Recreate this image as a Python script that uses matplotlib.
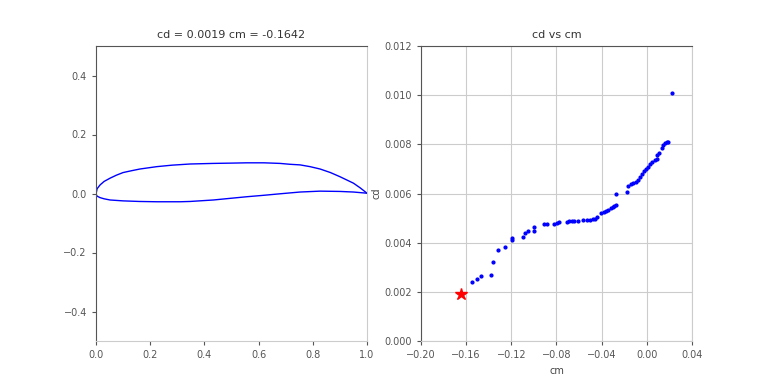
import matplotlib
matplotlib.use("Agg")
import matplotlib.pyplot as plt

# Profilkoordinaten (Oberseite und Unterseite)
x_oben = [0.0, 0.004, 0.015, 0.03, 0.052, 0.075, 0.10, 0.13, 0.162, 0.224, 0.28, 0.347, 0.433,
          0.50, 0.556, 0.62, 0.679, 0.716, 0.753, 0.79, 0.827, 0.865, 0.90, 0.95, 0.975, 1.0]
y_oben = [-0.002, 0.016, 0.029, 0.041, 0.052, 0.062, 0.071, 0.077, 0.083, 0.091, 0.096, 0.100, 0.102,
          0.103, 0.104, 0.104, 0.102, 0.099, 0.097, 0.091, 0.083, 0.071, 0.057, 0.035, 0.019, 0.001]
x_unten = [0.0, 0.004, 0.015, 0.03, 0.052, 0.10, 0.16, 0.224, 0.31, 0.347, 0.433, 0.50, 0.556,
           0.62, 0.679, 0.716, 0.753, 0.827, 0.90, 0.95, 1.0]
y_unten = [-0.002, -0.009, -0.014, -0.018, -0.022, -0.025, -0.027, -0.028, -0.028, -0.027, -0.022,
           -0.016, -0.011, -0.006, -0.001, 0.002, 0.005, 0.008, 0.007, 0.005, 0.001]

# cd / cm Punkte
cm = [-0.1551, -0.1504, -0.1471, -0.1383, -0.1365, -0.1318, -0.1256, -0.1197, -0.1197,
      -0.1097, -0.1079, -0.1052, -0.0999, -0.0999, -0.0911, -0.0887, -0.0819, -0.0798,
      -0.0775, -0.0710, -0.0690, -0.0665, -0.0645, -0.0607, -0.0562, -0.0532, -0.0503,
      -0.0474, -0.0459, -0.0437, -0.0406, -0.0383, -0.0361, -0.0341, -0.0317, -0.0302,
      -0.0288, -0.0273, -0.0273, -0.0178, -0.0163, -0.0142, -0.0120, -0.0096, -0.0075,
      -0.0060, -0.0045, -0.0025, -0.0007, 0.0014, 0.0029, 0.0049, 0.0073, 0.0094,
      0.0094, 0.0112, 0.0133, 0.0147, 0.0162, 0.0177, 0.0191, 0.0223]
cd = [0.00239, 0.00251, 0.00264, 0.00267, 0.00321, 0.00369, 0.00381, 0.00411, 0.00419,
      0.00423, 0.00441, 0.00446, 0.00449, 0.00465, 0.00475, 0.00475, 0.00477, 0.00481,
      0.00483, 0.00484, 0.00487, 0.00488, 0.00489, 0.00489, 0.00491, 0.00492, 0.00493,
      0.00495, 0.00498, 0.00506, 0.00519, 0.00525, 0.00529, 0.00533, 0.00540, 0.00544,
      0.00549, 0.00552, 0.00597, 0.00608, 0.00632, 0.00637, 0.00643, 0.00648, 0.00655,
      0.00668, 0.00679, 0.00693, 0.00700, 0.00709, 0.00719, 0.00730, 0.00737, 0.00740,
      0.00757, 0.00766, 0.00784, 0.00797, 0.00807, 0.00811, 0.00811, 0.01009]
best_cm = -0.1642
best_cd = 0.0019

fig = plt.figure(figsize=(7.68, 3.84), dpi=100)
ax1 = fig.add_axes([96 / 768, 43 / 384, 271 / 768, 295 / 384])
ax2 = fig.add_axes([421 / 768, 43 / 384, 271 / 768, 295 / 384])

ax1.plot(x_oben, y_oben, color="blue", linewidth=1)
ax1.plot(x_unten, y_unten, color="blue", linewidth=1)
ax1.set_xlim(0, 1)
ax1.set_ylim(-0.5, 0.5)
ax1.set_title("cd = %.4f cm = %.4f" % (best_cd, best_cm), fontsize=8, color="#333333")

ax2.plot(cm, cd, ".", color="blue", markersize=4)
ax2.plot(best_cm, best_cd, "*", color="red", markersize=9)
ax2.set_xlim(-0.2, 0.04)
ax2.set_ylim(0, 0.012)
ax2.set_xticks([-0.20, -0.16, -0.12, -0.08, -0.04, 0.00, 0.04])
ax2.set_xticklabels(["\u22120.20", "\u22120.16", "\u22120.12", "\u22120.08", "\u22120.04", "0.00", "0.04"])
ax2.set_yticks([0.0, 0.002, 0.004, 0.006, 0.008, 0.010, 0.012])
ax2.set_yticklabels(["0.000", "0.002", "0.004", "0.006", "0.008", "0.010", "0.012"])
ax2.grid(True, color="#cccccc", linewidth=0.8)
ax2.set_axisbelow(True)
ax2.set_title("cd vs cm", fontsize=8, color="#333333")
ax2.set_xlabel("cm", fontsize=7, color="#444444")
ax2.set_ylabel("cd", fontsize=7, color="#444444", labelpad=2)

for ax in (ax1, ax2):
    ax.tick_params(labelsize=7, colors="#555555", length=3)
    ax.spines["top"].set_color("#555555")
    ax.spines["left"].set_color("#555555")
    ax.spines["right"].set_color("#cccccc")
    ax.spines["bottom"].set_color("#cccccc")

fig.savefig("out.png", dpi=100)
